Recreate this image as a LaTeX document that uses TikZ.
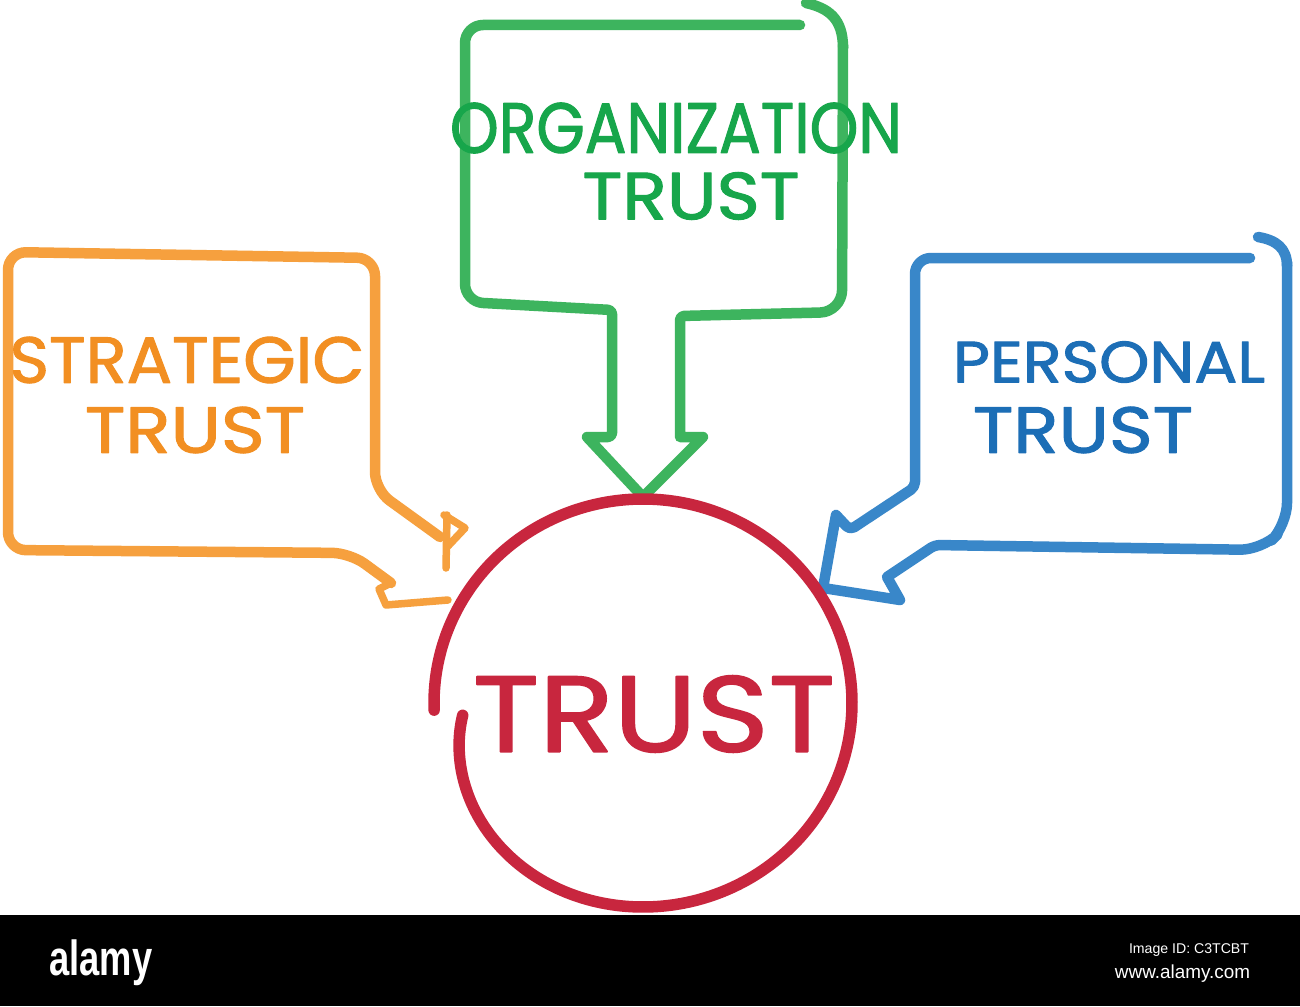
\documentclass[tikz,border=0pt]{standalone}
\usepackage{fontspec}
\setmainfont{Poppins}
\newfontfamily\mkfont{Poppins}[FakeBold=1.6]
\newfontfamily\wmfont{Liberation Sans}
\definecolor{orng}{HTML}{F6A03E}
\definecolor{orngtxt}{HTML}{F28F22}
\definecolor{grn}{HTML}{3DB45E}
\definecolor{grntxt}{HTML}{17A64B}
\definecolor{blu}{HTML}{3987C9}
\definecolor{blutxt}{HTML}{1C6EB6}
\definecolor{rd}{HTML}{C8263E}
\begin{document}
\begin{tikzpicture}[x=1pt,y=-1pt,line cap=round,line join=round,
  marker/.style={line width=10.5pt},
  thinmarker/.style={line width=7.5pt},
  lbl/.style={inner sep=0pt,outer sep=0pt,font=\mkfont}]
\useasboundingbox (0,0) rectangle (1300,1006);
\fill[white] (0,0) rectangle (1300,1006);

% ---------- orange bubble (strategic) ----------
\draw[marker,orng,rounded corners=18pt]
  (440,537) -- (375,490) -- (375,258) -- (8,252) -- (8,550) -- (350,553) [rounded corners=3pt] -- (391,583);
\draw[thinmarker,orng] (447,515) -- (446,568);
\draw[thinmarker,orng] (444,515) -- (465,528) -- (448,546);
\draw[thinmarker,orng] (391,583) -- (379,589) -- (386,605) -- (448,600);

% ---------- green bubble (organization) ----------
\draw[marker,grn,rounded corners=18pt]
  (800,25) -- (465,25) -- (465,302) [rounded corners=4pt] -- (612,310) -- (612,437) [sharp corners] -- (587,437) -- (643,497) -- (703,437) -- (680,437) [rounded corners=4pt] -- (680,316) [rounded corners=22pt] -- (842,312) -- (843,45);
\draw[marker,grn] (843,48) .. controls (843,18) and (828,8) .. (806,3);

% ---------- blue bubble (personal) ----------
\draw[marker,blu,rounded corners=16pt]
  (1250,258) -- (915,258) [rounded corners=5pt] -- (915,487) -- (850,530) [sharp corners] -- (836,515) -- (823,588) -- (900,600) -- (887,577) [rounded corners=5pt] -- (935,545) [rounded corners=22pt] -- (1262,550) -- (1287,525) -- (1287,262);
\draw[marker,blu] (1287,266) .. controls (1287,248) and (1276,240) .. (1258,237);

% ---------- red circle ----------
\coordinate (ctr) at (643,703);
\draw[rd,line width=11.5pt] plot[domain=178:536,samples=200,smooth]
  ({643+209*(1-0.135*(max(0,\x-450)/86)^3)*cos(\x)},
   {703+204*(1-0.135*(max(0,\x-450)/86)^3)*sin(\x)});

% ---------- labels ----------
\node[lbl,text=orngtxt] (strat) at (187,360) {\resizebox{355pt}{46pt}{STRATEGIC}};
\node[lbl,text=orngtxt] (stratT) at (195,430) {\resizebox{220pt}{46pt}{TRUST}};
\node[lbl,text=grntxt] (org) at (676,128) {\resizebox{452pt}{50pt}{ORGANIZATION}};
\node[lbl,text=grntxt] (orgT) at (691,196) {\resizebox{217pt}{47pt}{TRUST}};
\node[lbl,text=blutxt] (pers) at (1109,362) {\resizebox{312pt}{41pt}{PERSONAL}};
\node[lbl,text=blutxt] (persT) at (1083,430) {\resizebox{220pt}{46pt}{TRUST}};
\node[lbl,text=rd] (trust) at (654,714) {\resizebox{362pt}{76pt}{TRUST}};

% ---------- watermark bar ----------
\fill[black] (0,915) rectangle (1300,1006);
\node[lbl,text=white] (alamy) at (101,963) {\resizebox*{103pt}{46pt}{\wmfont\bfseries alamy}};
\node[lbl,text=white,anchor=base east] (imgid) at (1249,953) {\resizebox{120pt}{!}{\wmfont Image ID: C3TCBT}};
\node[lbl,text=white,anchor=base east] (www) at (1250,978) {\resizebox{135pt}{!}{\wmfont www.alamy.com}};
\end{tikzpicture}
\end{document}
